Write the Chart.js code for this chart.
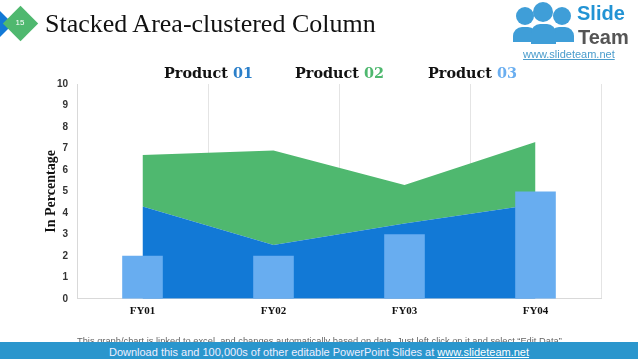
<!DOCTYPE html>
<html>
<head>
<meta charset="utf-8">
<script src="https://cdn.jsdelivr.net/npm/chart.js@4"></script>
<style>
    html, body { margin: 0; padding: 0; background: #fff; }
    #slide { position: relative; width: 638px; height: 359px; overflow: hidden; font-family: 'Liberation Sans', sans-serif; }
    #slide canvas { position: absolute; left: 0; top: 0; }
    .abs { position: absolute; white-space: nowrap; }
    .diamond { position: absolute; transform: rotate(45deg); }
    #titulo { left: 45px; top: 9px; font: 26px 'Liberation Serif', serif; color: #111; }
    .legenda { top: 64px; font: bold 14.4px 'DejaVu Serif', serif; color: #111; }
    #nota { left: 77px; top: 336px; font: 9.3px 'Liberation Sans', sans-serif; color: #666; }
    #rodape { left: 0; top: 342px; width: 638px; height: 17px; background: #2a96cd; color: #eef; font-size: 11px; line-height: 20px; text-align: center; }
    #rodape u { color: #fff; }
    .cabeca { position: absolute; border-radius: 50%; background: #3f9ed8; }
    .corpo { position: absolute; border-radius: 9px 9px 0 0; background: #3f9ed8; }
</style>
</head>
<body>
<div id="slide">
    <canvas id="grafico" width="638" height="359"></canvas>

    <div class="diamond" style="left:-28px;top:7px;width:34px;height:34px;background:#1279d6;"></div>
    <div class="diamond" style="left:7.5px;top:10.5px;width:25px;height:25px;background:#4fb86f;"></div>
    <div class="abs" style="left:14px;top:18px;font-size:8px;color:#fff;width:12px;text-align:center;">15</div>
    <div class="abs" id="titulo">Stacked Area-clustered Column</div>

    <div class="corpo" style="left:513px;top:27px;width:24px;height:15px;"></div>
    <div class="corpo" style="left:550px;top:27px;width:24px;height:15px;"></div>
    <div class="corpo" style="left:531px;top:24px;width:25px;height:20px;"></div>
    <div class="cabeca" style="left:516px;top:7px;width:18px;height:18px;"></div>
    <div class="cabeca" style="left:553px;top:7px;width:18px;height:18px;"></div>
    <div class="cabeca" style="left:533px;top:2px;width:20px;height:20px;"></div>
    <div class="abs" style="left:577px;top:2px;font:bold 20px 'Liberation Sans',sans-serif;color:#2293d4;">Slide</div>
    <div class="abs" style="left:578px;top:26px;font:bold 20px 'Liberation Sans',sans-serif;color:#555;">Team</div>
    <div class="abs" style="left:523px;top:48px;font-size:11px;color:#4a9ccc;text-decoration:underline;">www.slideteam.net</div>

    <div id="legendas"></div>
    <div class="abs" id="nota">This graph/chart is linked to excel, and changes automatically based on data. Just left click on it and select &ldquo;Edit Data&rdquo;.</div>
    <div class="abs" id="rodape">Download this and 100,000s of other editable PowerPoint Slides at <u>www.slideteam.net</u></div>
</div>

<script>
const categorias = ['FY01', 'FY02', 'FY03', 'FY04'];
const produto01 = [4.3, 2.5, 3.5, 4.4];
const produto02 = [2.4, 4.4, 1.8, 2.9];
const produto03 = [2, 2, 3, 5];
const nomesProdutos = ['Product ', 'Product ', 'Product '];
const numerosProdutos = ['01', '02', '03'];
const coresLegenda = ['#2b7fc9', '#4fb86f', '#6aaef0'];
const posLegenda = [164, 295, 428];

// legenda sem marcadores, so texto
const divLegendas = document.getElementById('legendas');
nomesProdutos.forEach((nome, i) => {
    divLegendas.innerHTML += `<div class="abs legenda" style="left:${posLegenda[i]}px">${nome}<span style="color:${coresLegenda[i]}">${numerosProdutos[i]}</span></div>`;
});

new Chart(document.getElementById('grafico').getContext('2d'), {
    type: 'bar',
    data: {
        labels: categorias,
        datasets: [
            { type: 'line', label: 'Product 01', data: produto01, backgroundColor: '#1279d6', borderWidth: 0, pointRadius: 0, tension: 0, fill: 'origin', stack: 'areas', order: 1 },
            { type: 'line', label: 'Product 02', data: produto02, backgroundColor: '#4fb86f', borderWidth: 0, pointRadius: 0, tension: 0, fill: '-1', stack: 'areas', order: 1 },
            { type: 'bar', label: 'Product 03', data: produto03, backgroundColor: '#68adf0', stack: 'colunas', order: 0, barPercentage: 0.31, categoryPercentage: 1 }
        ]
    },
    options: {
        responsive: false,
        animation: false,
        layout: { padding: { left: 43, right: 37, top: 84, bottom: 35 } },
        plugins: { legend: { display: false }, tooltip: { enabled: false } },
        scales: {
            x: {
                stacked: true,
                grid: { color: '#e4e4e4', drawTicks: false },
                border: { color: '#d9d9d9', width: 1 },
                ticks: { color: '#111', padding: 6, font: { family: "'Liberation Serif', serif", size: 11, weight: 'bold' } }
            },
            y: {
                stacked: true,
                min: 0,
                max: 10,
                afterFit: (escala) => { escala.width = 34; },
                grid: { display: false, drawTicks: false },
                border: { color: '#d9d9d9', width: 1 },
                ticks: { stepSize: 1, color: '#333', padding: 9, font: { family: "'Liberation Sans', sans-serif", size: 10, weight: 'bold' } },
                title: { display: true, text: 'In Percentage', color: '#111', padding: 0, font: { family: "'Liberation Serif', serif", size: 14, weight: 'bold' } }
            }
        }
    }
});
</script>
</body>
</html>
